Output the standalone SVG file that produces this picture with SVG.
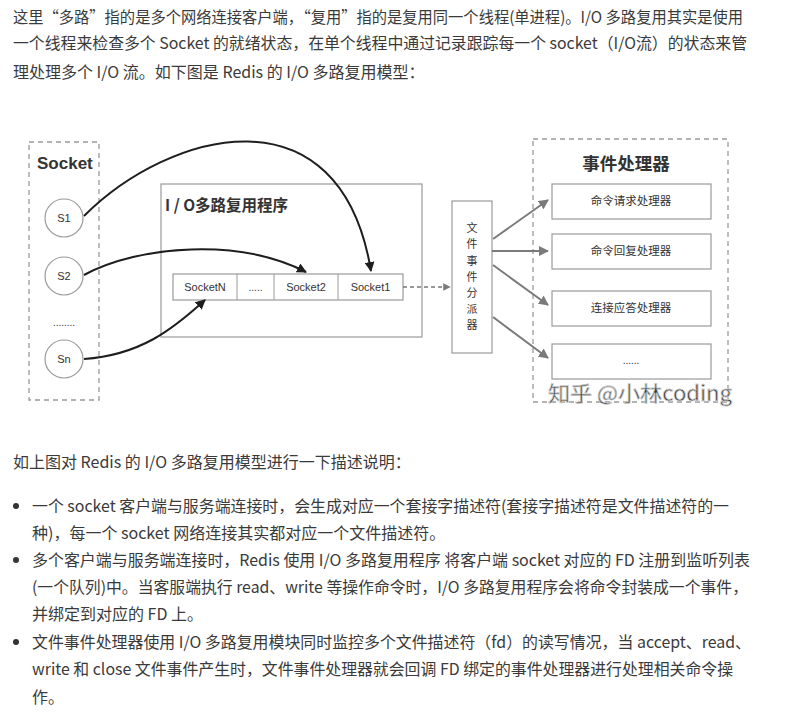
<svg xmlns="http://www.w3.org/2000/svg" width="786" height="718" viewBox="0 0 786 718">
<defs>
<style>
.p{font-family:"Noto Sans CJK SC","Noto Sans",sans-serif;font-size:16px;fill:#3a3a3a}
.d{font-family:"Liberation Sans","Noto Sans CJK SC",sans-serif;fill:#333}
.dc{font-family:"Noto Sans CJK SC",sans-serif;fill:#333}
.box{fill:#fff;stroke:#9a9a9a;stroke-width:1.2}
.dash{fill:none;stroke:#9a9a9a;stroke-width:1.3;stroke-dasharray:5 4}
.curve{fill:none;stroke:#1e1e1e;stroke-width:2}
.garr{fill:none;stroke:#7a7a7a;stroke-width:2}
</style>
<marker id="mb" viewBox="0 0 10 10" refX="9" refY="5" markerWidth="5" markerHeight="5" orient="auto" markerUnits="strokeWidth">
<path d="M0,0 L10,5 L0,10 z" fill="#1e1e1e"/>
</marker>
<marker id="mg" viewBox="0 0 10 10" refX="9" refY="5" markerWidth="5" markerHeight="5" orient="auto" markerUnits="strokeWidth">
<path d="M0,0 L10,5 L0,10 z" fill="#7a7a7a"/>
</marker>
</defs>
<rect width="786" height="718" fill="#fff"/>

<g id="intro">
<text class="p" x="13" y="23" textLength="730" lengthAdjust="spacingAndGlyphs">这里“多路”指的是多个网络连接客户端，“复用”指的是复用同一个线程(单进程)。I/O 多路复用其实是使用</text>
<text class="p" x="13" y="49" textLength="734" lengthAdjust="spacingAndGlyphs">一个线程来检查多个 Socket 的就绪状态，在单个线程中通过记录跟踪每一个 socket（I/O流）的状态来管</text>
<text class="p" x="13" y="78">理处理多个 I/O 流。如下图是 Redis 的 I/O 多路复用模型：</text>
</g>

<g id="socket-group">
<rect class="dash" x="29" y="142" width="70" height="258"/>
<text class="d" x="37" y="169" font-size="17" font-weight="bold">Socket</text>
</g>
<g id="s1"><circle class="box" cx="64" cy="218" r="19"/><text class="d" x="64" y="222" font-size="11" text-anchor="middle">S1</text></g>
<g id="s2"><circle class="box" cx="64" cy="276" r="19"/><text class="d" x="64" y="280" font-size="11" text-anchor="middle">S2</text></g>
<g id="sdots"><text class="d" x="64" y="326" font-size="10" text-anchor="middle" fill="#666">........</text></g>
<g id="sn"><circle class="box" cx="64" cy="359" r="19"/><text class="d" x="64" y="363" font-size="11" text-anchor="middle">Sn</text></g>

<g id="io-multiplexer">
<rect class="box" x="161" y="184" width="261" height="153"/>
<text class="dc" x="165" y="211" font-size="16" font-weight="bold" textLength="123" lengthAdjust="spacingAndGlyphs">I / O多路复用程序</text>
</g>
<g id="socket-queue">
<rect class="box" x="173" y="274" width="230" height="26"/>
<line x1="237" y1="274" x2="237" y2="300" stroke="#9a9a9a"/>
<line x1="274" y1="274" x2="274" y2="300" stroke="#9a9a9a"/>
<line x1="338" y1="274" x2="338" y2="300" stroke="#9a9a9a"/>
<text class="d" x="205" y="291" font-size="11" text-anchor="middle">SocketN</text>
<text class="d" x="255.5" y="291" font-size="10" text-anchor="middle">.....</text>
<text class="d" x="306" y="291" font-size="11" text-anchor="middle">Socket2</text>
<text class="d" x="370.5" y="291" font-size="11" text-anchor="middle">Socket1</text>
</g>

<g id="dispatcher">
<rect class="box" x="452" y="201" width="40" height="152"/>
<g class="dc" font-size="11" text-anchor="middle">
<text x="472" y="232">文</text>
<text x="472" y="248">件</text>
<text x="472" y="265">事</text>
<text x="472" y="281">件</text>
<text x="472" y="297">分</text>
<text x="472" y="313">派</text>
<text x="472" y="329">器</text>
</g>
</g>

<g id="event-handlers">
<rect class="dash" x="533" y="139" width="195" height="263"/>
<text class="dc" x="626" y="170" font-size="17.5" font-weight="bold" text-anchor="middle">事件处理器</text>
</g>
<g id="h1"><rect class="box" x="552" y="184" width="159" height="35"/><text class="dc" x="631" y="205" font-size="11.5" text-anchor="middle">命令请求处理器</text></g>
<g id="h2"><rect class="box" x="552" y="234" width="159" height="35"/><text class="dc" x="631" y="255" font-size="11.5" text-anchor="middle">命令回复处理器</text></g>
<g id="h3"><rect class="box" x="552" y="291" width="159" height="35"/><text class="dc" x="631" y="312" font-size="11.5" text-anchor="middle">连接应答处理器</text></g>
<g id="h4"><rect class="box" x="552" y="344" width="159" height="35"/><text class="d" x="631" y="364" font-size="10" text-anchor="middle">......</text></g>

<g id="connectors">
<path class="curve" d="M84,216 C170,130 340,85 371,271" marker-end="url(#mb)"/>
<path class="curve" d="M84,275 C140,245 240,238 306,272" marker-end="url(#mb)"/>
<path class="curve" d="M84,359 C140,355 172,330 205,300" marker-end="url(#mb)"/>
<path d="M403,287 L450,287" fill="none" stroke="#777" stroke-width="1.5" stroke-dasharray="4 3" marker-end="url(#mg)"/>
<path class="garr" d="M493,239 L548,200" marker-end="url(#mg)"/>
<path class="garr" d="M492,251 L548,251" marker-end="url(#mg)"/>
<path class="garr" d="M493,265 L548,305" marker-end="url(#mg)"/>
<path class="garr" d="M493,317 L548,358" marker-end="url(#mg)"/>
</g>

<g id="watermark">
<text class="dc" x="548" y="401" font-size="21" fill="#ececec" stroke="#cfcfcf" stroke-width="0.8" textLength="184" lengthAdjust="spacingAndGlyphs">知乎 @小林coding</text>
</g>

<g id="description">
<text class="p" x="13" y="468">如上图对 Redis 的 I/O 多路复用模型进行一下描述说明：</text>
<circle cx="16" cy="506" r="3" fill="#333"/>
<circle cx="16" cy="560" r="3" fill="#333"/>
<circle cx="16" cy="642" r="3" fill="#333"/>
<text class="p" x="32" y="512" textLength="697" lengthAdjust="spacingAndGlyphs">一个 socket 客户端与服务端连接时，会生成对应一个套接字描述符(套接字描述符是文件描述符的一</text>
<text class="p" x="32" y="539">种)，每一个 socket 网络连接其实都对应一个文件描述符。</text>
<text class="p" x="32" y="566" textLength="718" lengthAdjust="spacingAndGlyphs">多个客户端与服务端连接时，Redis 使用 I/O 多路复用程序 将客户端 socket 对应的 FD 注册到监听列表</text>
<text class="p" x="32" y="593" textLength="716" lengthAdjust="spacingAndGlyphs">(一个队列)中。当客服端执行 read、write 等操作命令时，I/O 多路复用程序会将命令封装成一个事件，</text>
<text class="p" x="32" y="620">并绑定到对应的 FD 上。</text>
<text class="p" x="32" y="648" textLength="719" lengthAdjust="spacingAndGlyphs">文件事件处理器使用 I/O 多路复用模块同时监控多个文件描述符（fd）的读写情况，当 accept、read、</text>
<text class="p" x="32" y="675" textLength="701" lengthAdjust="spacingAndGlyphs">write 和 close 文件事件产生时，文件事件处理器就会回调 FD 绑定的事件处理器进行处理相关命令操</text>
<text class="p" x="32" y="703">作。</text>
</g>
</svg>
